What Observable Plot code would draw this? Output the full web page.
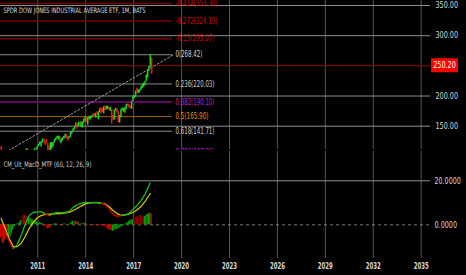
<!DOCTYPE html>
<html><head><meta charset="utf-8">
<script src="https://cdn.jsdelivr.net/npm/d3@7"></script>
<script src="https://cdn.jsdelivr.net/npm/@observablehq/plot@0.6"></script>
<style>
html,body{margin:0;padding:0;background:#000;}
#chart{width:466px;height:275px;overflow:hidden;background:#000}
#chart svg{display:block}
</style></head><body><div id="chart"></div>
<script>
// ---------- data ----------
const title = "SPDR DOW JONES INDUSTRIAL AVERAGE ETF, 1M, BATS";
const indicatorTitle = "CM_Ult_MacD_MTF (60, 12, 26, 9)";
const firstMonth = [2008, 9]; // monthly candles from Sep 2008 to Feb 2018
const opens = [115.4,108.5,93.3,88.3,
 87.8,80.0,70.6,76.1,81.7,85.0,84.5,91.7,95.0,97.1,97.1,103.4,
 104.3,100.7,103.3,108.6,110.1,101.4,97.7,104.7,100.1,107.9,111.2,110.1,
 115.8,118.9,122.3,123.2,128.1,125.7,124.1,121.4,116.1,109.1,119.6,120.5,
 122.2,126.3,129.5,132.1,132.1,123.9,128.8,130.1,130.9,134.4,131.0,130.3,
 131.0,138.6,140.5,145.8,148.4,151.2,149.1,155.0,148.1,151.3,155.5,160.9,
 165.8,157.0,163.2,164.6,165.8,167.2,168.3,165.6,171.0,170.4,173.9,178.3,
 178.2,171.7,181.3,177.8,178.4,180.1,176.2,176.9,165.3,162.8,176.6,177.2,
 174.3,164.7,165.2,176.9,177.7,177.9,179.3,184.3,184.0,183.1,181.4,191.2,
 197.6,198.6,208.1,206.6,209.4,210.1,213.5,218.9,219.5,224.1,233.8,242.7,
 247.2,261.5];
const highs = [116.5,108.8,96.5,90.3,
 91.4,82.8,79.2,82.6,86.4,88.8,92.5,96.3,99.2,100.9,104.1,105.8,
 107.3,104.1,109.3,112.6,112.0,106.0,105.4,107.2,108.6,112.5,114.5,116.0,
 120.0,123.9,124.2,128.8,128.8,125.7,127.5,121.4,117.2,122.8,122.9,123.0,
 127.9,130.6,133.3,133.4,133.4,129.0,131.0,133.3,136.6,136.6,132.9,132.5,
 139.7,141.5,145.9,149.1,155.4,153.3,156.6,156.6,157.1,157.1,161.8,165.9,
 165.9,164.0,166.3,166.3,167.4,169.8,170.9,171.5,173.5,173.9,179.0,180.7,
 179.5,182.4,182.9,183.2,183.5,181.0,181.2,177.5,168.0,177.0,179.8,178.3,
 174.3,167.7,177.9,180.2,179.3,181.3,186.4,186.7,186.1,184.0,191.5,199.9,
 200.7,208.2,213.2,210.0,211.1,215.4,219.2,221.8,224.2,234.9,243.3,248.8,
 268.4,262.3];
const lows = [103.7,78.8,74.5,81.5,
 78.6,70.0,65.5,75.0,80.5,82.0,80.9,90.0,92.5,95.9,96.9,102.0,
 100.5,98.1,103.0,107.6,98.7,96.1,96.9,99.4,100.1,107.5,107.9,110.1,
 115.7,118.9,115.5,121.9,123.8,118.6,121.0,103.6,106.0,103.6,112.3,115.5,
 122.2,126.3,128.8,127.1,123.9,121.0,124.9,128.6,129.8,129.0,125.4,128.8,
 131.0,137.0,140.0,143.8,147.4,145.5,149.1,147.8,148.0,146.9,155.0,157.0,
 156.0,151.9,160.3,160.2,163.3,166.3,165.6,163.3,168.8,160.7,172.3,170.7,
 172.6,170.4,175.6,176.8,177.6,175.8,174.7,153.7,159.4,160.1,174.6,171.4,
 155.5,155.1,164.5,175.5,173.3,171.4,177.9,182.8,179.9,179.3,177.8,190.8,
 196.0,197.9,204.1,203.8,205.6,209.4,212.7,215.0,216.9,223.8,230.1,240.9,
 247.0,235.8];
const closes = [108.5,93.3,88.3,87.8,
 80.0,70.6,76.1,81.7,85.0,84.5,91.7,95.0,97.1,97.1,103.4,104.3,
 100.7,103.3,108.6,110.1,101.4,97.7,104.7,100.1,107.9,111.2,110.1,115.8,
 118.9,122.3,123.2,128.1,125.7,124.1,121.4,116.1,109.1,119.6,120.5,122.2,
 126.3,129.5,132.1,132.1,123.9,128.8,130.1,130.9,134.4,131.0,130.3,131.0,
 138.6,140.5,145.8,148.4,151.2,149.1,155.0,148.1,151.3,155.5,160.9,165.8,
 157.0,163.2,164.6,165.8,167.2,168.3,165.6,171.0,170.4,173.9,178.3,178.2,
 171.7,181.3,177.8,178.4,180.1,176.2,176.9,165.3,162.8,176.6,177.2,174.3,
 164.7,165.2,176.9,177.7,177.9,179.3,184.3,184.0,183.1,181.4,191.2,197.6,
 198.6,208.1,206.6,209.4,210.1,213.5,218.9,219.5,224.1,233.8,242.7,247.2,
 261.5,250.2];
const lastPrice = 250.20;

const fibRatios = ["-0.414","-0.272","-0.13","0","0.236","0.382","0.5","0.618","0.786"];
const fibPrices = [353.30, 324.19, 295.07, 268.42, 220.03, 190.10, 165.90, 141.71, 107.26];
const fibEndYear = 2019.43;
const trendYears = [2009.17, 2019.5];
const trendPrices = [109.7, 268.42];

const priceTicks = [150, 200, 300, 350];
const yearTicks = [2011, 2014, 2017, 2020, 2023, 2026, 2029, 2032, 2035];
const macdTicks = [0, 20];

const macdDates = ["2008-09","2008-12","2009-03","2009-06","2009-09","2009-12","2010-03","2010-06","2010-09","2010-12",
 "2011-03","2011-06","2011-09","2011-12","2012-03","2012-06","2012-09","2012-12","2013-03","2013-06","2013-09","2013-12",
 "2014-03","2014-06","2014-09","2014-12","2015-03","2015-06","2015-09","2015-12","2016-03","2016-06","2016-09","2016-12",
 "2017-03","2017-06","2017-09","2017-12","2018-01"];
const macdValues = [0.6,-3.5,-7.6,-10.8,-9.0,-4.9,0.1,4.2,5.6,5.8,6.0,5.1,4.2,5.1,5.6,5.4,5.6,6.0,7.9,9.0,9.7,10.1,
 10.1,10.1,10.1,9.9,9.2,7.4,4.7,3.8,4.2,4.5,5.1,7.0,8.8,11.0,13.8,17.9,19.2];
const signalValues = [2.9,-1.7,-6.2,-9.9,-9.9,-8.5,-5.3,-1.7,1.0,3.1,4.2,4.7,4.9,4.9,5.1,5.1,5.4,5.6,6.5,7.4,8.5,9.5,
 9.9,10.1,10.1,9.9,9.5,8.3,6.5,5.1,4.3,4.5,4.9,5.6,6.7,8.3,10.6,13.3,14.2];
// monthly histogram (same months as candles) and its state: G up, M falling above, R falling
const histValues = [-6,-8,-8.5,-7,
 -5,-3,-5,-5.5,-4,-2.5,-1,-0.3,0.3,0.5,1,2,
 3.5,4.2,4.4,4,3.5,3.3,3,2.6,2.2,1.8,1.5,1.2,
 1,0.9,0.7,0.6,0.3,-0.5,-1,-1.8,-1.6,-1,-0.5,-0.3,
 0.3,0.5,0.4,0.2,-0.4,-0.3,0.2,0.3,0.4,0.2,-0.2,-0.2,
 0.5,1.2,1.6,1.5,1.6,1.2,1.3,0.7,0.5,0.4,0.5,0.7,
 0.3,0.2,0.1,-0.2,-0.2,-0.1,-0.3,-0.2,-0.3,-0.3,-0.2,-0.4,
 -0.5,-0.4,-0.6,-1,-1.8,-2.2,-2.4,-2.6,-3,-2.6,-2.2,-2,
 -1.8,-1.5,-1,-0.6,-0.3,0.2,0.6,1,1.6,2,2.3,2.3,
 2.5,3,3.5,3.8,4,4.2,4,3.5,3.8,4.3,4.8,5,
 5.2,5];
const histState = ("RRRR" + "RRGGGGGGGGGG" + "MMMMMGGGGGGG" + "GGGGGRRRRRGG" + "GGGMRRGGGMRR" +
 "GGGMGMGMMGGG" + "MMMRRRRRRRRR" + "RRRRRRRRGGGG" + "GGGGGGGGGGGG" + "MMMMMMMMGGGG" + "GR").split("");

// ---------- styles ----------
const FONT = "'Liberation Sans Narrow', 'DejaVu Sans Condensed', 'Liberation Sans', sans-serif";
const fibLineColors = ["#7a0000","#7a0000","#7a0000","#8a8a8a","#8a8a8a","#5c0a5c","#9a600c","#8a8a8a","#a010a0"];
const fibTextColors = ["#d40000","#d40000","#d40000","#d0d0d0","#c8c8c8","#c020c0","#e8900a","#d0d0d0","#c020c0"];
const fibWidths = [1.5,1.5,1.5,1,1,2,1,1,1.5];
const histColors = {G: "#0a9a0a", M: "#8a0000", R: "#d80000"};

// ---------- derived ----------
const monthYear = i => {
  const mi = firstMonth[1] - 1 + i;
  return firstMonth[0] + Math.floor(mi / 12) + ((mi % 12) + 0.5) / 12;
};
const parseYM = s => { const [y, m] = s.split("-").map(Number); return y + (m - 0.5) / 12; };
const candles = closes.map((c, i) => ({t: monthYear(i), o: opens[i], h: highs[i], l: lows[i], c}));
const fib = fibRatios.map((r, i) => ({r, p: fibPrices[i], lc: fibLineColors[i], tc: fibTextColors[i], w: fibWidths[i]}));
const trend = trendYears.map((t, i) => ({t, p: trendPrices[i]}));
const macdPts = macdDates.map((d, i) => ({t: parseYM(d), m: macdValues[i], s: signalValues[i]}));
const macdSegs = macdPts.slice(1).map((b, i) => {
  const a = macdPts[i];
  return {t1: a.t, m1: a.m, t2: b.t, m2: b.m, col: b.m >= b.s ? "#19c419" : "#d80000"};
});
const hist = histValues.map((v, i) => ({t1: monthYear(i) - 1 / 24, t2: monthYear(i) + 1 / 24, v, col: histColors[histState[i]]}));

const xDomain = [2008.665, 2035.582];
const baseStyle = {background: "#000", color: "#d8d8d8", fontFamily: FONT, fontSize: "8.5px", overflow: "hidden"};

// condense text widths to match the narrow chart font
function condense(svgNode) {
  d3.select(svgNode).selectAll("text").each(function () {
    const s = this.textContent;
    let w = null;
    if (s === title) w = 142;
    else if (s === indicatorTitle) w = 88;
    else if (s.includes("(")) w = 3 * s.length;
    else if (/^[\d.]+$/.test(s)) w = 3.75 * s.length;
    if (w) d3.select(this).attr("textLength", w).attr("lengthAdjust", "spacingAndGlyphs");
  });
}

// ---------- top pane ----------
const pricePlot = Plot.plot({
  width: 466, height: 150,
  marginLeft: 0, marginRight: 36, marginTop: 0, marginBottom: 1,
  style: baseStyle,
  x: {domain: xDomain, axis: null},
  y: {domain: [111.4, 358.28]},
  color: {type: "identity"},
  marks: [
    Plot.ruleX(yearTicks, {stroke: "#555555"}),
    Plot.ruleY(priceTicks, {stroke: "#8e8e8e"}),
    Plot.ruleY([lastPrice], {stroke: "#8b0000"}),
    Plot.ruleY(fib, {y: "p", x1: xDomain[0], x2: fibEndYear, stroke: "lc", strokeWidth: "w"}),
    Plot.text(fib, {x: fibEndYear, y: "p", text: d => `${d.r}(${d.p.toFixed(2)})`, dx: 3, textAnchor: "start", fill: "tc", fontSize: 8.5}),
    Plot.line(trend, {x: "t", y: "p", stroke: "#9a9a9a", strokeWidth: 1, strokeDasharray: "2,2"}),
    Plot.ruleX(candles, {x: "t", y1: "l", y2: "h", stroke: d => d.c >= d.o ? "#1ed81e" : "#ee1a1a", strokeWidth: 1.5}),
    Plot.axisY(priceTicks, {anchor: "right", tickSize: 0, tickPadding: 5, tickFormat: d3.format(".2f"), fontSize: 8.5, label: null}),
    Plot.text([title], {frameAnchor: "top-left", dx: 3, dy: 7, textAnchor: "start", fill: "#dcdcdc", fontSize: 7.5})
  ]
});

// price box on the right axis, placed through the plot's own y scale
{
  const yy = pricePlot.scale("y").apply(lastPrice);
  const g = d3.select(pricePlot).append("g");
  g.append("rect").attr("x", 431).attr("y", yy - 7).attr("width", 27).attr("height", 14).attr("fill", "#ff0000");
  g.append("text").attr("x", 444.5).attr("y", yy).attr("dy", "0.35em").attr("text-anchor", "middle")
    .attr("fill", "#fff").attr("font-size", 8.5).attr("font-family", FONT).text(d3.format(".2f")(lastPrice));
}
condense(pricePlot);

// ---------- bottom pane (indicator) ----------
const macdPlot = Plot.plot({
  width: 466, height: 125,
  marginLeft: 0, marginRight: 36, marginTop: 1, marginBottom: 17,
  style: baseStyle,
  x: {domain: xDomain},
  y: {domain: [-15.3, 33.3]},
  color: {type: "identity"},
  marks: [
    Plot.ruleX(yearTicks, {stroke: "#555555"}),
    Plot.ruleY([20], {stroke: "#8e8e8e"}),
    Plot.ruleY([0], {stroke: "#7a7a7a", strokeDasharray: "3,3"}),
    Plot.rectY(hist, {x1: "t1", x2: "t2", y: "v", fill: "col"}),
    Plot.line(macdPts, {x: "t", y: "s", stroke: "#d8cc00", strokeWidth: 1.2}),
    Plot.link(macdSegs, {x1: "t1", y1: "m1", x2: "t2", y2: "m2", stroke: "col", strokeWidth: 1.3}),
    Plot.axisY(macdTicks, {anchor: "right", tickSize: 0, tickPadding: 4, tickFormat: d3.format(".4f"), fontSize: 8.5, label: null}),
    Plot.axisX(yearTicks, {tickSize: 0, tickPadding: 4, tickFormat: d => `${d}`, fontSize: 9, fontWeight: "bold", label: null}),
    Plot.text([indicatorTitle], {frameAnchor: "top-left", dx: 3, dy: 10, textAnchor: "start", fill: "#d0d0d0", fontSize: 7.5})
  ]
});
condense(macdPlot);

document.getElementById("chart").append(pricePlot, macdPlot);
</script>
</body></html>
